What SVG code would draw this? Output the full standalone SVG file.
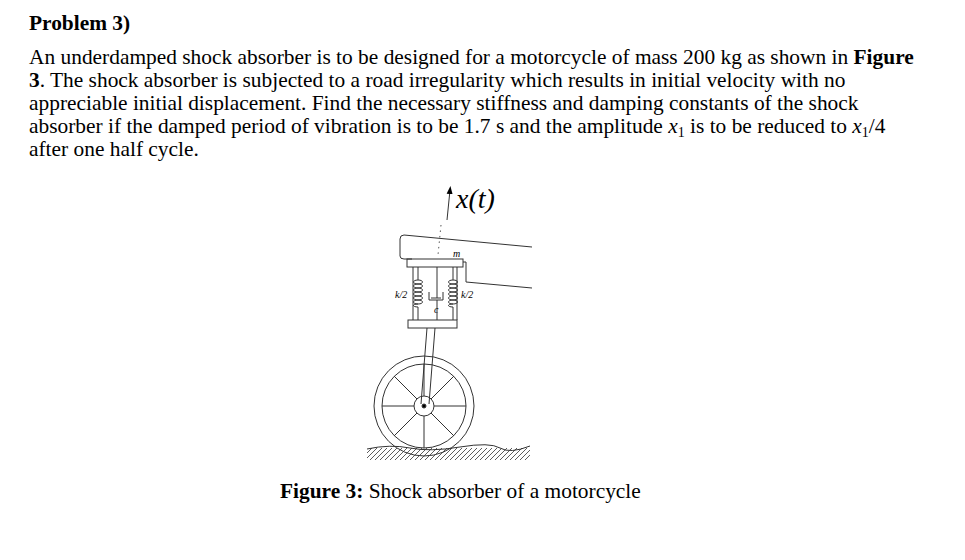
<svg xmlns="http://www.w3.org/2000/svg" width="965" height="560" viewBox="0 0 965 560">
<style>
.t{font-family:"Liberation Serif",serif;font-size:21.4px;fill:#000}
.l{fill:none;stroke:#333;stroke-width:1}
.i{font-family:"Liberation Serif",serif;font-style:italic;fill:#000}
</style>
<defs><marker id="a" markerWidth="8" markerHeight="8" refX="4" refY="4" orient="auto"><path d="M0,1 L8,4 L0,7z" fill="#000"/></marker>
<pattern id="h" width="5" height="5" patternUnits="userSpaceOnUse"><path d="M0,5 L5,0" stroke="#333" stroke-width="0.8"/></pattern></defs>
<rect width="965" height="560" fill="#fff"/>
<text class="t" x="29" y="30" font-weight="bold" font-size="19">Problem 3)</text>
<text class="t" x="29" y="64">An underdamped shock absorber is to be designed for a motorcycle of mass 200 kg as shown in <tspan font-weight="bold">Figure</tspan></text>
<text class="t" x="29" y="87"><tspan font-weight="bold">3</tspan>. The shock absorber is subjected to a road irregularity which results in initial velocity with no</text>
<text class="t" x="29" y="110">appreciable initial displacement. Find the necessary stiffness and damping constants of the shock</text>
<text class="t" x="29" y="133">absorber if the damped period of vibration is to be 1.7 s and the amplitude <tspan font-style="italic">x</tspan><tspan font-size="14" dy="4">1</tspan><tspan dy="-4"> is to be reduced to </tspan><tspan font-style="italic">x</tspan><tspan font-size="14" dy="4">1</tspan><tspan dy="-4">/4</tspan></text>
<text class="t" x="29" y="156">after one half cycle.</text>
<g id="figure">
<line class="l" x1="447" y1="220" x2="450" y2="190" stroke="#000" stroke-width="1.5" marker-end="url(#a)"/>
<text class="i" x="456" y="208" font-size="28">x(t)</text>
<line x1="441" y1="225" x2="438" y2="255" stroke="#555" stroke-dasharray="1.5,4"/>
<path class="l" d="M532,247 L404,235 Q400,235 400,239 L400,256 Q400,259 404,259 L412,259"/>
<rect class="l" x="407" y="259" width="56" height="8"/>
<path class="l" d="M463,262 L466,262 L466,282 L532,288"/>
<text class="i" x="453" y="257" font-size="10">m</text>
<line class="l" x1="413" y1="267" x2="413" y2="320"/><line class="l" x1="457" y1="267" x2="457" y2="320"/>
<path class="l" d="M418,267 V280 M418,307 V320 M453,267 V280 M453,307 V320"/>
<g id="springs" class="l">
<path d="M418,280 c-6,0 -6,4 0,4 c6,0 6,-4 0,-4 M418,284 c-6,0 -6,4 0,4 c6,0 6,-4 0,-4 M418,288 c-6,0 -6,4 0,4 c6,0 6,-4 0,-4 M418,292 c-6,0 -6,4 0,4 c6,0 6,-4 0,-4 M418,296 c-6,0 -6,4 0,4 c6,0 6,-4 0,-4 M418,300 c-6,0 -6,4 0,4 c6,0 6,-4 0,-4 M418,304 c-6,0 -6,3 0,3"/>
<path d="M453,280 c-6,0 -6,4 0,4 c6,0 6,-4 0,-4 M453,284 c-6,0 -6,4 0,4 c6,0 6,-4 0,-4 M453,288 c-6,0 -6,4 0,4 c6,0 6,-4 0,-4 M453,292 c-6,0 -6,4 0,4 c6,0 6,-4 0,-4 M453,296 c-6,0 -6,4 0,4 c6,0 6,-4 0,-4 M453,300 c-6,0 -6,4 0,4 c6,0 6,-4 0,-4 M453,304 c-6,0 -6,3 0,3"/>
</g>
<path class="l" d="M437,267 V298 M431,298 H441 M429,292 V300 H443 V292 M437,300 V320"/>
<text class="i" x="395" y="298" font-size="10">k/2</text>
<text class="i" x="461" y="298" font-size="10">k/2</text>
<text class="i" x="434" y="313" font-size="10">c</text>
<rect class="l" x="408" y="320" width="49" height="8"/>
<path class="l" d="M427,328 L421,404 M435,328 L429,404"/>
<g id="wheel" class="l">
<circle cx="424" cy="406" r="50"/><circle cx="424" cy="406" r="42"/><circle cx="424" cy="406" r="10"/>
<path d="M424,396 V364 M424,416 V448 M414,406 H382 M434,406 H466 M431,399 L454,376 M417,413 L394,436 M417,399 L394,376 M431,413 L454,436"/>
<circle cx="424" cy="406" r="2" fill="#000"/>
</g>
<rect x="367" y="448" width="163" height="12" fill="url(#h)"/>
<path class="l" d="M367,449 Q390,444 410,448 T460,447 T500,448 T530,446"/>
</g>
<text class="t" x="280" y="498"><tspan font-weight="bold">Figure 3:</tspan> Shock absorber of a motorcycle</text>
</svg>
